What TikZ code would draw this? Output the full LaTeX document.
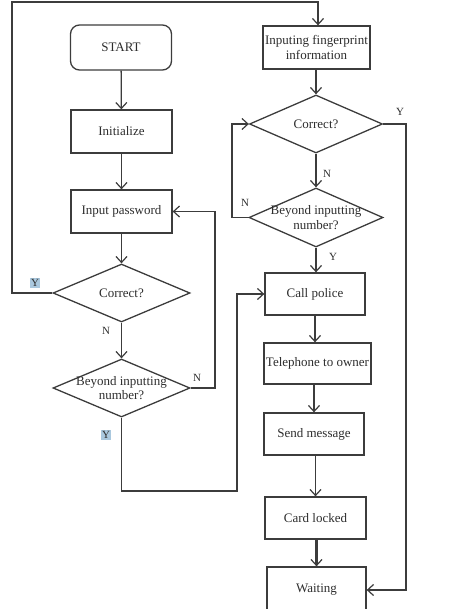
\documentclass[tikz,border=0pt]{standalone}
\usepackage{fontspec}
\setmainfont{Liberation Serif}
\usetikzlibrary{arrows.meta,shapes.geometric}
\definecolor{ln}{RGB}{60,60,60}
\definecolor{tx}{RGB}{45,45,45}
\definecolor{hl}{RGB}{170,200,222}
\begin{document}
\begin{tikzpicture}[x=1pt,y=-1pt,
  every node/.style={text=tx},
  box/.style={draw=ln,line width=1.3pt,rectangle,inner sep=0pt,font=\fontsize{13}{14.5}\selectfont,align=center},
  dia/.style={draw=ln,line width=1.3pt,diamond,inner sep=0pt,aspect=2.3},
  dtext/.style={font=\fontsize{13}{14.5}\selectfont,align=center,text=tx},
  lab/.style={font=\fontsize{11}{12}\selectfont,inner sep=1pt},
  hlab/.style={lab,fill=hl},
  conn/.style={draw=ln,line width=1.3pt,-{Straight Barb[length=6pt,width=11pt,line width=1.2pt]}},
  plain/.style={draw=ln,line width=1.3pt}]
\useasboundingbox (0,0) rectangle (474,609);
\clip (0,0) rectangle (474,609);
% left column
\node[box,rounded corners=9pt,minimum width=101,minimum height=45] (start) at (121,47.5) {START};
\node[box,minimum width=101,minimum height=43] (init) at (121.5,131.5) {Initialize};
\node[box,minimum width=101,minimum height=43] (pwd) at (121.5,211.5) {Input password};
\node[dia,minimum width=137,minimum height=58,label={[dtext]center:Correct?}] (c1) at (121.5,293) {};
\node[dia,minimum width=137,minimum height=58,label={[dtext]center:Beyond inputting\\number?}] (b1) at (121.5,388) {};
% right column
\node[box,minimum width=107,minimum height=43] (fp) at (316.5,47.5) {Inputing fingerprint\\information};
\node[dia,minimum width=133,minimum height=58,label={[dtext]center:Correct?}] (c2) at (316,124) {};
\node[dia,minimum width=134,minimum height=59,label={[dtext]center:Beyond inputting\\number?}] (b2) at (316,217.5) {};
\node[box,minimum width=100,minimum height=42] (call) at (315,294) {Call police};
\node[box,minimum width=107,minimum height=41] (tel) at (317.5,363.5) {Telephone to owner};
\node[box,minimum width=100,minimum height=42] (send) at (314,434) {Send message};
\node[box,minimum width=101,minimum height=42] (card) at (315.5,518) {Card locked};
\node[box,minimum width=99,minimum height=46] (wait) at (316.5,590) {Waiting};
% coordinates
\coordinate (p1) at (12,293);
\coordinate (p2) at (12,2);
\coordinate (p3) at (318,2);
\coordinate (q1) at (215,388);
\coordinate (q2) at (215,211.5);
\coordinate (r1) at (121.5,491);
\coordinate (r2) at (237,491);
\coordinate (r3) at (237,294);
\coordinate (s1) at (406,124);
\coordinate (s2) at (406,590);
\coordinate (t1) at (232,217.5);
\coordinate (t2) at (232,124);
% vertical arrows
\draw[conn] (start) -- (init);
\draw[conn] (init) -- (pwd);
\draw[conn] (pwd) -- (c1);
\draw[conn] (c1) -- (b1);
\draw[conn] (fp.south -| c2) -- (c2.north);
\draw[conn] (c2) -- (b2);
\draw[conn] (b2.south) -- (b2.south |- call.north);
\draw[conn] (call.south) -- (call.south |- tel.north);
\draw[conn] (tel.south -| send) -- (send.north);
\draw[conn,line width=1pt] (send.south -| card) -- (card.north);
\draw[conn,line width=2.3pt] (card.south -| wait) -- (wait.north);
% loops
\draw[conn] (c1.west) -- (p1) -- (p2) -- (p3) -- (p3 |- fp.north);
\draw[conn] (b1.east) -- (q1) -- (q2) -- (pwd.east);
\draw[conn] (b1.south) -- (r1) -- (r2) -- (r3) -- (call.west);
\draw[conn] (c2.east) -- (s1) -- (s2) -- (wait.east);
\draw[conn] (b2.west) -- (t1) -- (t2) -- (c2.west);
% labels
\node[hlab] (ly1) at (35,283) {Y};
\node[lab] (ln1) at (106,331) {N};
\node[lab] (ln2) at (197,378) {N};
\node[hlab] (ly2) at (106,435) {Y};
\node[lab] (ly3) at (400,112) {Y};
\node[lab] (ln3) at (327,174) {N};
\node[lab] (ln4) at (245,203) {N};
\node[lab] (ly4) at (333,257) {Y};
\end{tikzpicture}
\end{document}
